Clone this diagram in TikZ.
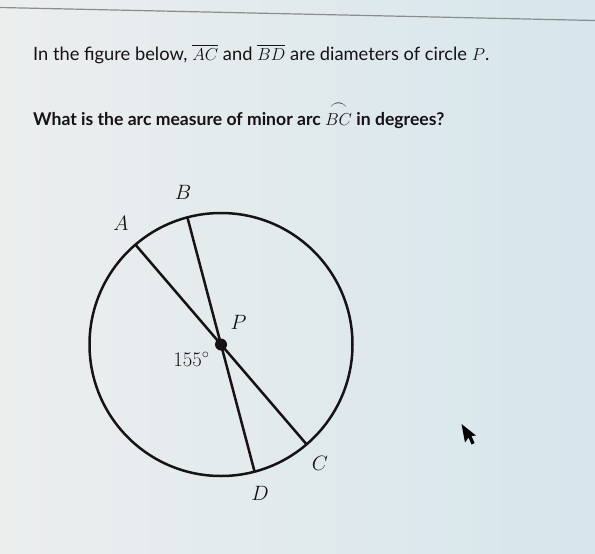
\documentclass[tikz,border=0pt]{standalone}
\usepackage{amsmath}
\usepackage{fontspec}
\setmainfont{Lato}
\usetikzlibrary{calc}
\definecolor{bgL}{RGB}{236,238,238}
\definecolor{bgR}{RGB}{214,230,236}
\definecolor{ink}{RGB}{22,18,22}
\definecolor{rule}{RGB}{140,140,140}
\tikzset{
  geo/.style={line width=2.5pt, draw=ink},
  lbl/.style={font=\fontsize{20.5}{22}\selectfont, text=ink, inner sep=0pt},
  qtext/.style={font=\fontsize{18.3}{22}\selectfont, text=ink, inner sep=0pt, anchor=base west},
}
\begin{document}
\begin{tikzpicture}[x=1pt,y=-1pt]
\useasboundingbox (0,0) rectangle (595,554);
\shade[left color=bgL, right color=bgR] (0,0) rectangle (595,554);
\coordinate (r1) at (0,7.5);
\coordinate (r2) at (595,20.5);
\draw[rule, line width=1.2pt] (r1) -- (r2);
% question text
\node[qtext] (q1) at (33,60) {In the figure below, $\overline{AC}$ and $\overline{BD}$ are diameters of circle $P$.};
\node[qtext, font=\fontsize{17.6}{22}\selectfont\bfseries] (q2) at (33,125) {What is the arc measure of minor arc $\overset{\textstyle\frown}{BC}$ in degrees?};
% circle
\coordinate (P) at (221,344.5);
\draw[geo] (P) circle[radius=131.5];
\coordinate (A) at ($(P)+(-130.6:131.5)$);
\coordinate (B) at ($(P)+(-104.8:131.5)$);
\coordinate (C) at ($(P)+(49.4:131.5)$);
\coordinate (D) at ($(P)+(75.2:131.5)$);
\draw[geo] (A) -- (C);
\draw[geo] (B) -- (D);
\fill[ink] (P) circle[radius=6];
% labels
\node[lbl] (lA) at (121,223) {$A$};
\node[lbl] (lB) at (183,192.5) {$B$};
\node[lbl] (lP) at (238.5,322) {$P$};
\node[lbl] (l155) at (191.5,359.5) {$155^\circ$};
\node[lbl] (lC) at (320,463) {$C$};
\node[lbl] (lD) at (260,493) {$D$};
% mouse cursor
\fill[black] (461.5,424) -- (465,442.5) -- (468.5,437.5) -- (471.5,444.5) -- (474.5,443) -- (471.5,436) -- (476,435.5) -- cycle;
\end{tikzpicture}
\end{document}
